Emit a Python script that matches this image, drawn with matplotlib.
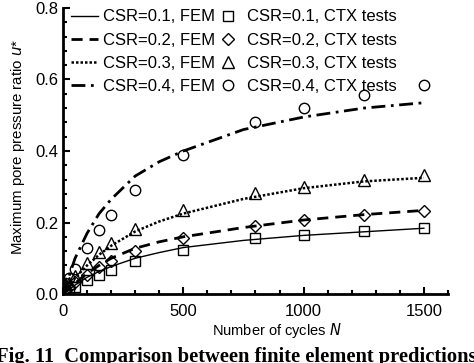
import matplotlib.pyplot as plt
from matplotlib.ticker import MultipleLocator
import numpy as np

plt.rcParams['font.family'] = ['Liberation Sans', 'DejaVu Sans']

# FEM curves
n_fem = [0, 25, 50, 100, 150, 200, 300, 400, 500, 750, 1000, 1250, 1500]
fem_01 = [0, 0.012, 0.025, 0.047, 0.063, 0.077, 0.100, 0.116, 0.130, 0.150, 0.164, 0.174, 0.184]
fem_02 = [0, 0.015, 0.030, 0.058, 0.080, 0.100, 0.128, 0.146, 0.160, 0.186, 0.207, 0.222, 0.234]
fem_03 = [0, 0.025, 0.045, 0.080, 0.110, 0.135, 0.175, 0.203, 0.225, 0.266, 0.296, 0.315, 0.325]
fem_04 = [0, 0.050, 0.100, 0.170, 0.225, 0.265, 0.330, 0.370, 0.400, 0.460, 0.495, 0.520, 0.535]

# CTX test results
n_test = [10, 25, 50, 100, 150, 200, 300, 500, 800, 1000, 1250, 1500]
ctx_01 = [0.005, 0.010, 0.021, 0.039, 0.053, 0.067, 0.091, 0.124, 0.156, 0.165, 0.175, 0.184]
ctx_02 = [0.010, 0.020, 0.035, 0.053, 0.075, 0.093, 0.120, 0.156, 0.190, 0.207, 0.222, 0.231]
ctx_03 = [0.020, 0.030, 0.050, 0.086, 0.117, 0.142, 0.181, 0.236, 0.282, 0.300, 0.320, 0.333]
ctx_04 = [0.030, 0.045, 0.070, 0.130, 0.180, 0.222, 0.292, 0.390, 0.480, 0.520, 0.558, 0.586]

csr = ['0.1', '0.2', '0.3', '0.4']

fig = plt.figure(figsize=(4.74, 3.63), dpi=100)
ax = fig.add_axes([0.133, 0.190, 0.812, 0.788])

styles = ['-', (0, (4, 2.5)), (0, (1, 0.8)), (0, (5, 2, 1, 2))]
widths = [1.0, 2.0, 1.8, 2.0]
markers = ['s', 'D', '^', 'o']
msizes = [6.5, 6.5, 8, 7.5]

lines = []
for fem, ls, lw, c in zip([fem_01, fem_02, fem_03, fem_04], styles, widths, csr):
    l, = ax.plot(n_fem, fem, color='black', linestyle=ls, linewidth=lw,
                 label='CSR=%s, FEM' % c)
    lines.append(l)

pts = []
for ctx, m, ms, c in zip([ctx_01, ctx_02, ctx_03, ctx_04], markers, msizes, csr):
    p, = ax.plot(n_test, ctx, linestyle='none', marker=m, markersize=ms,
                 markerfacecolor='none', markeredgecolor='black', markeredgewidth=1.0,
                 label='CSR=%s, CTX tests' % c)
    pts.append(p)

ax.set_xlim(0, 1600)
ax.set_ylim(0, 0.8)
ax.set_xticks([0, 500, 1000, 1500])
ax.set_yticks([0.0, 0.2, 0.4, 0.6, 0.8])
ax.set_yticklabels(['0.0', '0.2', '0.4', '0.6', '0.8'])
ax.xaxis.set_minor_locator(MultipleLocator(100))
ax.yaxis.set_minor_locator(MultipleLocator(0.04))
ax.tick_params(which='both', direction='in', width=1.5, labelsize=12)
ax.tick_params(which='major', length=5)
ax.tick_params(which='minor', length=3)
ax.tick_params(axis='x', which='major', pad=7.5)
for s in ['top', 'right']:
    ax.spines[s].set_visible(False)
for s in ['left', 'bottom']:
    ax.spines[s].set_linewidth(2)

ax.set_xlabel('Number of cycles $\\mathit{N}$', fontsize=10.5)
ax.xaxis.set_label_coords(0.556, -0.095)
ax.set_ylabel('Maximum pore pressure ratio $\\mathit{u}$*', fontsize=10.8)
ax.yaxis.set_label_coords(-0.094, 0.514)

ax.legend(lines + pts, [l.get_label() for l in lines + pts], ncol=2, frameon=False,
          loc='upper left', bbox_to_anchor=(-0.005, 1.03), fontsize=12,
          handlelength=1.6, handletextpad=0.3, columnspacing=0.0,
          labelspacing=0.49, borderaxespad=0.2)

fig.text(-0.008, 0.044, 'Fig. 11  Comparison between finite element predictions',
         fontsize=14.8, fontweight='bold', family='Liberation Serif', va='top', ha='left')

fig.savefig('out.png', dpi=100)
